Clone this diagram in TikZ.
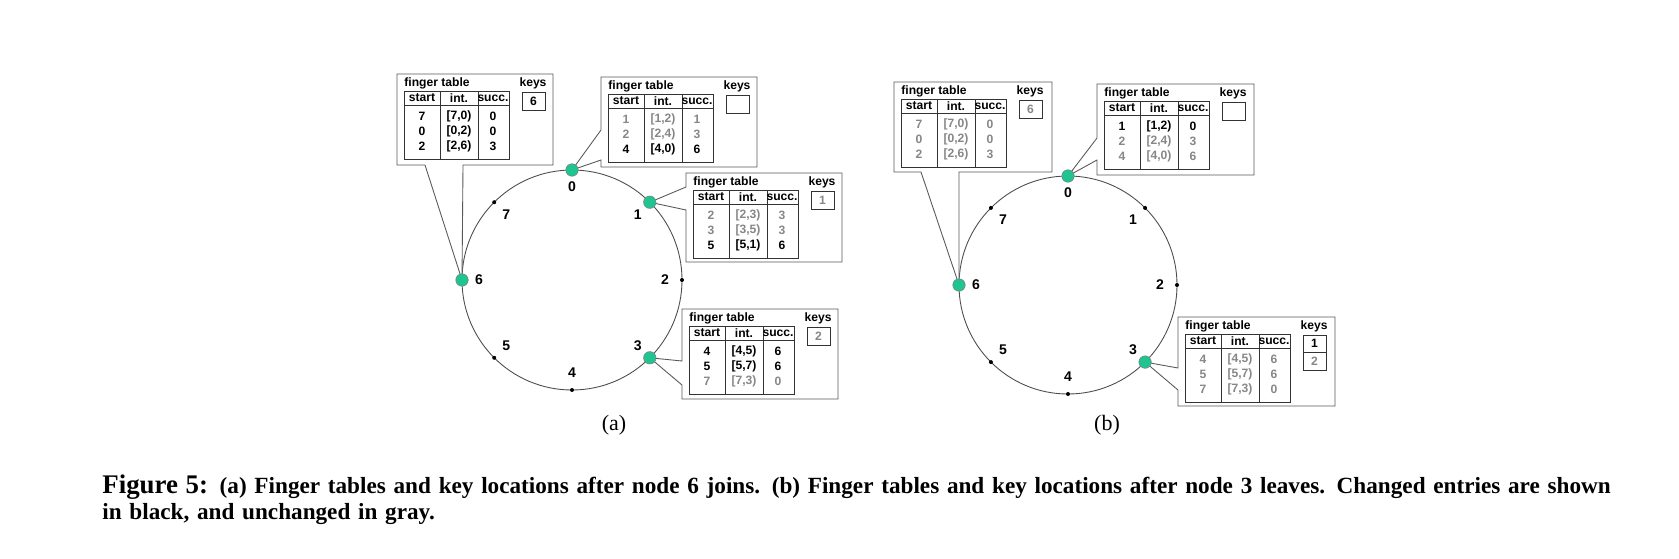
\documentclass[tikz,border=0pt]{standalone}
\usepackage{fontspec}
\setmainfont{Liberation Serif}
\setsansfont{Liberation Sans}
\usetikzlibrary{calc}
\definecolor{chordgreen}{RGB}{32,196,145}
\definecolor{ftgray}{RGB}{135,135,135}
\tikzset{
  ft/.style={font=\sffamily\bfseries\fontsize{6.9}{7.5}\selectfont,inner sep=0pt},
  bubble/.style={draw=black!65,line width=0.5pt,fill=white},
  grid/.style={draw=black!80,line width=0.5pt},
  peer/.style={circle,fill=chordgreen,draw=black!50,line width=0.3pt,minimum size=0.25cm,inner sep=0pt},
  dot/.style={circle,fill=black,minimum size=0.08cm,inner sep=0pt},
  g/.style={text=ftgray},
  k/.style={text=black}
}
% frame contents of one finger table, drawn in box coordinates
\newcommand\fingertable[1]{%
  \node[ft,anchor=west] (title) at (7,9) {finger table};
  \node[ft] (keyhead) at (136,9) {keys};
  \draw[grid] (7,17) rectangle (112,85);
  \draw[grid] (7,31) -- (112,31) (43,17) -- (43,85) (81,17) -- (81,85);
  \node[ft] (hs) at (25,24) {start};
  \node[ft] (hi) at (62,24) {int.};
  \node[ft] (hu) at (96,24) {succ.};
  \foreach \c/\s/\i/\u [count=\r] in {#1} {
    \node[ft,\c] (s\r) at (25,27+15*\r) {\s};
    \node[ft,\c] (i\r) at (62,27+15*\r) {\i};
    \node[ft,\c] (u\r) at (96,27+15*\r) {\u};
  }}
\newcommand\keybox[2]{%
  \draw[grid] (125,18) rectangle (148,36);
  \node[ft,#1] (key) at (136.5,27) {#2};}

\begin{document}
\begin{tikzpicture}[x={(0.02cm,0)},y={(0,-0.02cm)}]
  \useasboundingbox (0,0) rectangle (1679,558);
  % ring (a)
  \coordinate (ca) at (572,280);
  \coordinate (cb) at (1068,285);
  \draw[black!70,line width=0.5pt] (ca) circle[radius=110];
  \draw[black!70,line width=0.5pt] (cb) circle[radius=109];
  \foreach \k in {0,...,7} {
    \coordinate (a\k) at ($(ca)+(-90+45*\k:110)$);
    \coordinate (b\k) at ($(cb)+(-90+45*\k:109)$);
    \node[ft,font=\sffamily\bfseries\fontsize{8}{9}\selectfont] (la\k) at ($(ca)+(-90+45*\k:93)$) {\k};
    \node[ft,font=\sffamily\bfseries\fontsize{8}{9}\selectfont] (lb\k) at ($(cb)+(-90+45*\k:92)$) {\k};
  }
  % bubbles (a)
  \draw[bubble] (a6) -- (425,165) -- (397,165) -- (397,74) -- (553,74) -- (553,165) -- (463,165) -- cycle;
  \draw[bubble] (a0) -- (601,130) -- (601,77) -- (757,77) -- (757,167) -- (601,167) -- (601,160) -- cycle;
  \draw[bubble] (a1) -- (686,187) -- (686,173) -- (842,173) -- (842,262) -- (686,262) -- (686,210) -- cycle;
  \draw[bubble] (a3) -- (682,361) -- (682,309) -- (838,309) -- (838,399) -- (682,399) -- (682,385) -- cycle;
  % bubbles (b)
  \draw[bubble] (b6) -- (921,172) -- (894,172) -- (894,82) -- (1052,82) -- (1052,172) -- (959,172) -- cycle;
  \draw[bubble] (b0) -- (1097,138) -- (1097,84) -- (1254,84) -- (1254,175) -- (1097,175) -- (1097,160) -- cycle;
  \draw[bubble] (b3) -- (1178,368) -- (1178,317) -- (1335,317) -- (1335,406) -- (1178,406) -- (1178,390) -- cycle;
  %%
  \begin{scope}[shift={(397,74)}]
    \fingertable{k/7/{[7,0)}/0, k/0/{[0,2)}/0, k/2/{[2,6)}/3}
    \keybox{k}{6}
  \end{scope}
  \begin{scope}[shift={(601,77)}]
    \fingertable{g/1/{[1,2)}/1, g/2/{[2,4)}/3, k/4/{[4,0)}/6}
    \keybox{k}{}
  \end{scope}
  \begin{scope}[shift={(686,173)}]
    \fingertable{g/2/{[2,3)}/3, g/3/{[3,5)}/3, k/5/{[5,1)}/6}
    \keybox{g}{1}
  \end{scope}
  \begin{scope}[shift={(682,309)}]
    \fingertable{k/4/{[4,5)}/6, k/5/{[5,7)}/6, g/7/{[7,3)}/0}
    \keybox{g}{2}
  \end{scope}
  %%
  \begin{scope}[shift={(894,82)}]
    \fingertable{g/7/{[7,0)}/0, g/0/{[0,2)}/0, g/2/{[2,6)}/3}
    \keybox{g}{6}
  \end{scope}
  \begin{scope}[shift={(1097,84)}]
    \fingertable{k/1/{[1,2)}/0, g/2/{[2,4)}/3, g/4/{[4,0)}/6}
    \keybox{k}{}
  \end{scope}
  \begin{scope}[shift={(1178,317)}]
    \fingertable{g/4/{[4,5)}/6, g/5/{[5,7)}/6, g/7/{[7,3)}/0}
    \draw[grid] (125,18) rectangle (148,53) (125,35) -- (148,35);
    \node[ft] (key1) at (136.5,26.5) {1};
    \node[ft,g] (key2) at (136.5,44) {2};
  \end{scope}
  % peers and free points
  \foreach \k in {0,1,3,6} \node[peer] (pa\k) at (a\k) {};
  \foreach \k in {2,4,5,7} \node[dot] (da\k) at (a\k) {};
  \foreach \k in {0,3,6} \node[peer] (pb\k) at (b\k) {};
  \foreach \k in {1,2,4,5,7} \node[dot] (db\k) at (b\k) {};
  % captions
  \node[font=\fontsize{12.5}{14}\selectfont] (capa) at (614,425) {(a)};
  \node[font=\fontsize{12.5}{14}\selectfont] (capb) at (1107,425) {(b)};
  \node[anchor=north west,text width=32cm,inner sep=0pt,align=left,
        font=\bfseries\fontsize{13.2}{15.3}\selectfont] (caption) at (102,474)
    {{\fontsize{15.3}{15.3}\selectfont Figure 5:} (a) Finger tables and key locations after node 6 joins. (b) Finger tables and key locations after node 3 leaves. Changed entries are shown\\ in black, and unchanged in gray.};
\end{tikzpicture}
\end{document}
